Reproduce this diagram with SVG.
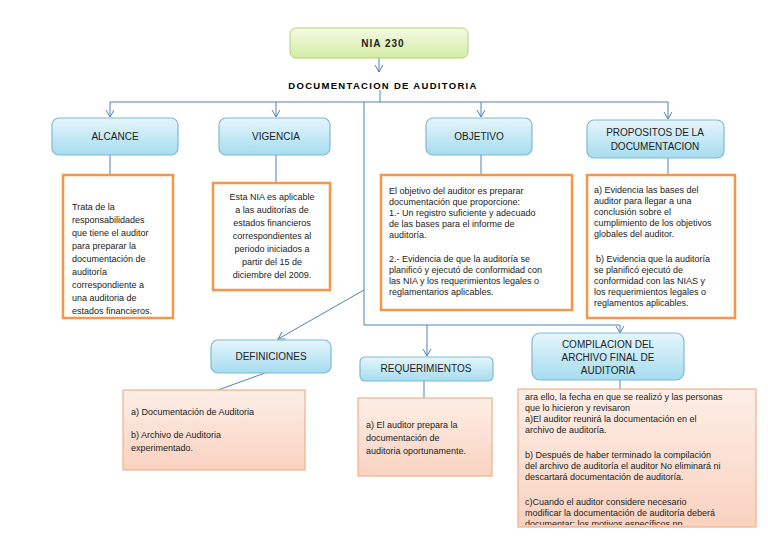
<svg xmlns="http://www.w3.org/2000/svg" width="768" height="543" viewBox="0 0 768 543">
<defs>
<linearGradient id="gb" x1="0" y1="0" x2="0" y2="1"><stop offset="0" stop-color="#e6f6fc"/><stop offset="1" stop-color="#a6dcef"/></linearGradient>
<linearGradient id="gg" x1="0" y1="0" x2="0" y2="1"><stop offset="0" stop-color="#f4fbe2"/><stop offset="1" stop-color="#d4eca4"/></linearGradient>
<linearGradient id="gp" x1="0" y1="0" x2="0" y2="1"><stop offset="0" stop-color="#fdeee6"/><stop offset="1" stop-color="#f9d2c0"/></linearGradient>
<marker id="a" markerWidth="10" markerHeight="10" refX="8" refY="4" orient="auto" markerUnits="userSpaceOnUse"><path d="M1,0 L8,4 L1,8" fill="none" stroke="#4f81bd" stroke-width="1"/></marker>
</defs>
<style>
.hb{fill:url(#gb);stroke:#7fb8d4;stroke-width:1.2}
.ob{fill:#fff;stroke:#f79646;stroke-width:2.5}
.pb{fill:url(#gp);stroke:#f0b08a;stroke-width:1.2}
.c{fill:none;stroke:#4f81bd;stroke-width:1}
text{font-family:"Liberation Sans",Arial,sans-serif;font-size:9px;fill:#222}
.h{font-size:10px;text-anchor:middle}
.m{text-anchor:middle}
</style>
<rect width="768" height="543" fill="#fff"/>
<g id="connectors">
<path class="c" d="M379,58 V72" marker-end="url(#a)"/>
<path class="c" d="M380,90 V102 M110,102 H668"/>
<path class="c" d="M110,102 V117" marker-end="url(#a)"/>
<path class="c" d="M276,102 V117" marker-end="url(#a)"/>
<path class="c" d="M481,102 V117" marker-end="url(#a)"/>
<path class="c" d="M668,102 V119" marker-end="url(#a)"/>
<path class="c" d="M110,155 V175 M276,155 V183 M481,155 V175 M668,158 V175"/>
<path class="c" d="M364,102 V325 H620 V333" marker-end="url(#a)"/>
<path class="c" d="M427,325 V356" marker-end="url(#a)"/>
<path class="c" d="M364,290 L278,339" marker-end="url(#a)"/>
<path class="c" d="M265,373 L218,390 M424,381 V398 M620,380 V389"/>
</g>
<g id="nia"><rect x="290" y="28" width="178" height="30" rx="6" fill="url(#gg)" stroke="#b5d279"/><text x="383" y="47" class="m" style="font-weight:bold;font-size:10px;letter-spacing:1px">NIA 230</text></g>
<g id="doc"><text x="383" y="89" class="m" style="font-weight:bold;font-size:9.5px;letter-spacing:1.3px;fill:#000">DOCUMENTACION DE AUDITORIA</text></g>
<g id="alcance"><rect class="hb" x="52" y="118" width="126" height="37" rx="7"/><text class="h" x="115" y="140">ALCANCE</text></g>
<g id="vigencia"><rect class="hb" x="219" y="118" width="111" height="37" rx="7"/><text class="h" x="276" y="140">VIGENCIA</text></g>
<g id="objetivo"><rect class="hb" x="426" y="118" width="106" height="37" rx="7"/><text class="h" x="479" y="140">OBJETIVO</text></g>
<g id="propositos"><rect class="hb" x="587" y="120" width="137" height="38" rx="7"/><text class="h" x="655" y="136">PROPOSITOS DE LA</text><text class="h" x="655" y="150">DOCUMENTACION</text></g>
<g id="t-alcance"><rect class="ob" x="63" y="175" width="110" height="143"/>
<text x="72" y="210">Trata de la</text><text x="72" y="223">responsabilidades</text><text x="72" y="236">que tiene el auditor</text><text x="72" y="249">para preparar la</text><text x="72" y="262">documentación de</text><text x="72" y="275">auditoría</text><text x="72" y="288">correspondiente a</text><text x="72" y="301">una auditoria de</text><text x="72" y="314">estados financieros.</text></g>
<g id="t-vigencia"><rect class="ob" x="213" y="183" width="117" height="107"/>
<text x="272" y="200" class="m">Esta NIA es aplicable</text><text x="272" y="213" class="m">a las auditorías de</text><text x="272" y="226" class="m">estados financieros</text><text x="272" y="239" class="m">correspondientes al</text><text x="272" y="252" class="m">periodo iniciados a</text><text x="272" y="265" class="m">partir del 15 de</text><text x="272" y="278" class="m">diciembre del 2009.</text></g>
<g id="t-objetivo"><rect class="ob" x="381" y="175" width="191" height="135"/>
<text x="389" y="194">El objetivo del auditor es preparar</text><text x="389" y="205">documentación que proporcione:</text><text x="389" y="216">1.- Un registro suficiente y adecuado</text><text x="389" y="227">de las bases para el informe de</text><text x="389" y="238">auditoría.</text><text x="389" y="262">2.- Evidencia de que la auditoría se</text><text x="389" y="273">planificó y ejecutó de conformidad con</text><text x="389" y="284">las NIA y los requerimientos legales o</text><text x="389" y="295">reglamentarios aplicables.</text></g>
<g id="t-propositos"><rect class="ob" x="587" y="175" width="148" height="143"/>
<text x="594" y="193">a) Evidencia las bases del</text><text x="594" y="204">auditor para llegar a una</text><text x="594" y="215">conclusión sobre el</text><text x="594" y="226">cumplimiento de los objetivos</text><text x="594" y="237">globales del auditor.</text><text x="596" y="262">b) Evidencia que la auditoría</text><text x="594" y="273">se planificó ejecutó de</text><text x="594" y="284">conformidad con las NIAS y</text><text x="594" y="295">los requerimientos legales o</text><text x="594" y="306">reglamentos aplicables.</text></g>
<g id="definiciones"><rect class="hb" x="211" y="340" width="120" height="33" rx="7"/><text class="h" x="271" y="360">DEFINICIONES</text></g>
<g id="t-definiciones"><rect class="pb" x="123" y="390" width="182" height="80"/><text x="131" y="415">a) Documentación de Auditoria</text><text x="131" y="438">b) Archivo de Auditoria</text><text x="131" y="451">experimentado.</text></g>
<g id="requerimientos"><rect class="hb" x="360" y="357" width="133" height="24" rx="5"/><text class="h" x="426" y="372">REQUERIMIENTOS</text></g>
<g id="t-requerimientos"><rect class="pb" x="358" y="398" width="134" height="78"/><text x="366" y="428">a) El auditor prepara la</text><text x="366" y="441">documentación de</text><text x="366" y="454">auditoria oportunamente.</text></g>
<g id="compilacion"><rect class="hb" x="532" y="333" width="152" height="47" rx="8"/><text class="h" x="608" y="348">COMPILACION DEL</text><text class="h" x="608" y="361">ARCHIVO FINAL DE</text><text class="h" x="608" y="374">AUDITORIA</text></g>
<g id="t-compilacion"><rect class="pb" x="518" y="389" width="238" height="138"/>
<clipPath id="cp"><rect x="518" y="389" width="238" height="136"/></clipPath>
<g clip-path="url(#cp)"><text x="525" y="400">ara ello, la fecha en que se realizó y las personas</text><text x="525" y="411">que lo hicieron y revisaron</text><text x="525" y="422">a)El auditor reunirá la documentación en el</text><text x="525" y="433">archivo de auditoría.</text><text x="525" y="458">b) Después de haber terminado la compilación</text><text x="525" y="469">del archivo de auditoría el auditor No eliminará ni</text><text x="525" y="480">descartará documentación de auditoría.</text><text x="525" y="505">c)Cuando el auditor considere necesario</text><text x="525" y="516">modificar la documentación de auditoría deberá</text><text x="525" y="527">documentar: los motivos específicos pp</text></g></g>
</svg>
